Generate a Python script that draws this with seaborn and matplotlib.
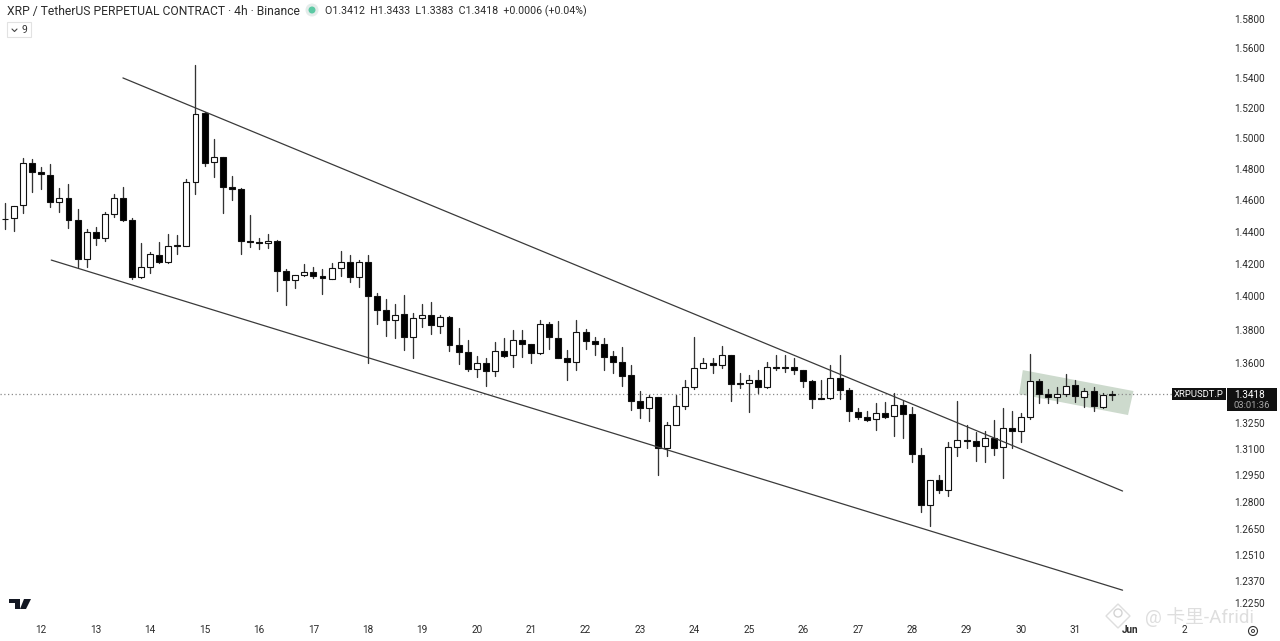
import numpy as np
import pandas as pd
import matplotlib
matplotlib.use('Agg')
import matplotlib.pyplot as plt
from matplotlib.patches import Rectangle, Polygon, Circle
import seaborn as sns

# 4h candles
opens = [1.4482, 1.4490, 1.4568, 1.4837, 1.4781, 1.4764, 1.4587, 1.4617, 1.4475, 1.4231, 1.4398,
         1.4360, 1.4513, 1.4614, 1.4475, 1.4120, 1.4180, 1.4258, 1.4213, 1.4314, 1.4314, 1.4719,
         1.5163, 1.4843, 1.4875, 1.4682, 1.4670, 1.4341, 1.4337, 1.4329, 1.4344, 1.4155, 1.4100,
         1.4134, 1.4153, 1.4126, 1.4110, 1.4175, 1.4214, 1.4120, 1.4210, 1.4003, 1.3918, 1.3860,
         1.3892, 1.3755, 1.3870, 1.3890, 1.3823, 1.3876, 1.3709, 1.3666, 1.3563, 1.3602, 1.3551,
         1.3673, 1.3645, 1.3737, 1.3713, 1.3661, 1.3834, 1.3751, 1.3629, 1.3605, 1.3787, 1.3733,
         1.3715, 1.3640, 1.3607, 1.3527, 1.3378, 1.3337, 1.3398, 1.3108, 1.3235, 1.3345, 1.3458,
         1.3572, 1.3598, 1.3588, 1.3648, 1.3484, 1.3482, 1.3497, 1.3460, 1.3578, 1.3578, 1.3578,
         1.3557, 1.3494, 1.3397, 1.3397, 1.3514, 1.3442, 1.3313, 1.3283, 1.3271, 1.3309, 1.3290,
         1.3354, 1.3299, 1.3066, 1.2784, 1.2923, 1.2870, 1.3114, 1.3154, 1.3146, 1.3116, 1.3160,
         1.3110, 1.3219, 1.3203, 1.3286, 1.3496, 1.3418, 1.3399, 1.3416, 1.3468, 1.3401, 1.3435,
         1.3344, 1.3412]
highs = [1.4581, 1.4566, 1.4873, 1.4864, 1.4811, 1.4834, 1.4680, 1.4702, 1.4545, 1.4418, 1.4433,
         1.4522, 1.4638, 1.4684, 1.4488, 1.4329, 1.4277, 1.4339, 1.4389, 1.4383, 1.4734, 1.5486,
         1.5174, 1.4995, 1.4879, 1.4755, 1.4680, 1.4505, 1.4364, 1.4385, 1.4348, 1.4167, 1.4133,
         1.4200, 1.4179, 1.4167, 1.4208, 1.4281, 1.4254, 1.4225, 1.4254, 1.4020, 1.3983, 1.3955,
         1.4009, 1.3898, 1.3953, 1.3969, 1.3888, 1.3882, 1.3811, 1.3735, 1.3643, 1.3627, 1.3727,
         1.3747, 1.3799, 1.3797, 1.3713, 1.3858, 1.3846, 1.3850, 1.3676, 1.3858, 1.3801, 1.3753,
         1.3751, 1.3674, 1.3694, 1.3586, 1.3435, 1.3412, 1.3398, 1.3256, 1.3414, 1.3499, 1.3753,
         1.3627, 1.3629, 1.3703, 1.3648, 1.3539, 1.3529, 1.3559, 1.3605, 1.3646, 1.3650, 1.3631,
         1.3557, 1.3498, 1.3500, 1.3588, 1.3648, 1.3450, 1.3334, 1.3321, 1.3363, 1.3373, 1.3426,
         1.3377, 1.3340, 1.3104, 1.2923, 1.2953, 1.3139, 1.3379, 1.3240, 1.3199, 1.3205, 1.3268,
         1.3334, 1.3321, 1.3309, 1.3654, 1.3504, 1.3448, 1.3461, 1.3533, 1.3500, 1.3450, 1.3456,
         1.3426, 1.3433]
lows = [1.4416, 1.4408, 1.4517, 1.4655, 1.4674, 1.4555, 1.4528, 1.4427, 1.4178, 1.4184, 1.4319,
        1.4344, 1.4492, 1.4471, 1.4106, 1.4112, 1.4147, 1.4205, 1.4205, 1.4262, 1.4314, 1.4638,
        1.4819, 1.4747, 1.4519, 1.4604, 1.4264, 1.4308, 1.4291, 1.4302, 1.4034, 1.3949, 1.4053,
        1.4128, 1.4116, 1.4015, 1.4110, 1.4128, 1.4088, 1.4057, 1.3598, 1.3835, 1.3763, 1.3747,
        1.3677, 1.3630, 1.3813, 1.3771, 1.3779, 1.3672, 1.3594, 1.3553, 1.3519, 1.3465, 1.3525,
        1.3637, 1.3575, 1.3637, 1.3598, 1.3655, 1.3683, 1.3627, 1.3501, 1.3559, 1.3683, 1.3646,
        1.3559, 1.3539, 1.3464, 1.3327, 1.3277, 1.3262, 1.2950, 1.3060, 1.3235, 1.3329, 1.3444,
        1.3572, 1.3543, 1.3568, 1.3378, 1.3451, 1.3313, 1.3421, 1.3451, 1.3559, 1.3549, 1.3533,
        1.3461, 1.3334, 1.3388, 1.3391, 1.3391, 1.3263, 1.3273, 1.3259, 1.3211, 1.3276, 1.3177,
        1.3165, 1.3025, 1.2743, 1.2670, 1.2853, 1.2835, 1.3061, 1.3104, 1.3034, 1.3025, 1.3066,
        1.2937, 1.3104, 1.3139, 1.3271, 1.3363, 1.3363, 1.3363, 1.3403, 1.3371, 1.3344, 1.3321,
        1.3338, 1.3383]
closes = [1.4478, 1.4566, 1.4837, 1.4781, 1.4766, 1.4589, 1.4617, 1.4477, 1.4231, 1.4398, 1.4360,
          1.4511, 1.4614, 1.4475, 1.4120, 1.4180, 1.4260, 1.4213, 1.4314, 1.4319, 1.4715, 1.5159,
          1.4841, 1.4875, 1.4687, 1.4672, 1.4341, 1.4335, 1.4331, 1.4344, 1.4157, 1.4100, 1.4133,
          1.4153, 1.4126, 1.4112, 1.4173, 1.4214, 1.4120, 1.4210, 1.4003, 1.3920, 1.3860, 1.3890,
          1.3755, 1.3868, 1.3890, 1.3827, 1.3874, 1.3707, 1.3666, 1.3563, 1.3602, 1.3551, 1.3673,
          1.3643, 1.3737, 1.3713, 1.3661, 1.3834, 1.3753, 1.3627, 1.3605, 1.3783, 1.3733, 1.3715,
          1.3638, 1.3607, 1.3525, 1.3378, 1.3337, 1.3398, 1.3108, 1.3235, 1.3345, 1.3458, 1.3572,
          1.3598, 1.3588, 1.3650, 1.3476, 1.3478, 1.3497, 1.3460, 1.3578, 1.3570, 1.3570, 1.3560,
          1.3494, 1.3391, 1.3391, 1.3510, 1.3442, 1.3317, 1.3283, 1.3268, 1.3309, 1.3286, 1.3354,
          1.3301, 1.3070, 1.2784, 1.2923, 1.2870, 1.3112, 1.3154, 1.3148, 1.3118, 1.3160, 1.3108,
          1.3219, 1.3203, 1.3286, 1.3496, 1.3420, 1.3399, 1.3416, 1.3466, 1.3403, 1.3435, 1.3346,
          1.3409, 1.3418]

price_ticks = [1.58, 1.56, 1.54, 1.52, 1.50, 1.48, 1.46, 1.44, 1.42, 1.40, 1.38, 1.36,
               1.325, 1.31, 1.295, 1.28, 1.265, 1.251, 1.237, 1.225]
day_labels = ['12', '13', '14', '15', '16', '17', '18', '19', '20', '21', '22', '23', '24',
              '25', '26', '27', '28', '29', '30', '31', 'Jun', '2']
day_ticks = [4 + 6 * k for k in range(len(day_labels))]

# trend lines and the green box, as (candle number, price)
upper_x, upper_y = [13.0, 123.2], [1.5399, 1.2862]
lower_x, lower_y = [5.1, 123.2], [1.4224, 1.2318]
box_x = [112.2, 124.4, 123.8, 111.8]
box_y = [1.3558, 1.3435, 1.3295, 1.3417]
last_price = 1.3418

W, H = 1280, 641

sns.set_theme(style='white')
plt.rcParams['font.family'] = ['Roboto', 'Noto Sans CJK SC', 'DejaVu Sans']

fig = plt.figure(figsize=(W / 100, H / 100), dpi=100)
ax = fig.add_axes([0, (H - 620) / H, 1226 / W, 620 / H])
ax.set_yscale('log')

df = pd.DataFrame({'open': opens, 'high': highs, 'low': lows, 'close': closes})
df['n'] = df.index

# wicks
wicks = df.melt(id_vars='n', value_vars=['high', 'low'], value_name='price')
sns.lineplot(data=wicks, x='n', y='price', units='n', estimator=None, color='#333333',
             linewidth=0.95, legend=False, ax=ax, zorder=2)

# bodies
body_low = df[['open', 'close']].min(axis=1)
body_high = df[['open', 'close']].max(axis=1)
colors = ['white' if c >= o else 'black' for o, c in zip(opens, closes)]
ax.bar(df['n'], body_high - body_low, bottom=body_low, width=0.66, color=colors,
       edgecolor='#111111', linewidth=0.8, zorder=3)

# channel
sns.lineplot(x=upper_x, y=upper_y, color='#3a3a3a', linewidth=0.9, ax=ax, zorder=4)
sns.lineplot(x=lower_x, y=lower_y, color='#3a3a3a', linewidth=0.9, ax=ax, zorder=4)

ax.add_patch(Polygon(list(zip(box_x, box_y)), closed=True, facecolor='#cddacd',
                     edgecolor='none', zorder=1))
ax.axhline(last_price, color='#8a8a8a', linestyle=(0, (1, 2)), linewidth=0.9, zorder=1)

ax.set_xlim(-0.551, 134.6)
ax.set_ylim(1.2159, 1.5931)
ax.set_xlabel('')
ax.set_ylabel('')
ax.yaxis.tick_right()
ax.set_yticks(price_ticks, [f'{p:.4f}' for p in price_ticks])
ax.yaxis.set_minor_locator(matplotlib.ticker.NullLocator())
ax.set_xticks(day_ticks, day_labels)
ax.tick_params(axis='both', length=0, labelsize=7.2, labelcolor='#2b2b2b')
ax.tick_params(axis='y', pad=5.8)
ax.tick_params(axis='x', pad=3.5)
ax.get_xticklabels()[day_labels.index('Jun')].set_fontweight('bold')
sns.despine(ax=ax, left=True, bottom=True, right=True, top=True)


def fx(x):
    return x / W


def fy(y):
    return 1 - y / H


# header
fig.text(fx(7), fy(11), 'XRP / TetherUS PERPETUAL CONTRACT · 4h · Binance', fontsize=8.75,
         color='#2b2b2b', va='center', ha='left')
fig.text(fx(325), fy(11), 'O1.3412  H1.3433  L1.3383  C1.3418  +0.0006 (+0.04%)', fontsize=7.7,
         color='#2b2b2b', va='center', ha='left')
fig.add_artist(Circle((312, H - 10), 6.5, transform=None, facecolor='#e4ecea', edgecolor='none'))
fig.add_artist(Circle((312, H - 10), 3.5, transform=None, facecolor='#5cc9a4', edgecolor='none'))
fig.add_artist(Rectangle((7, H - 37), 24, 15, transform=None, facecolor='white',
                         edgecolor='#e2e2e2', linewidth=0.8))
fig.text(fx(21), fy(30), '9', fontsize=7.5, color='#333333', va='center', ha='left')
fig.add_artist(plt.Line2D([12, 14.5, 17], [H - 29, H - 31.5, H - 29], transform=None,
                          color='#444444', linewidth=0.8))

# price tags
fig.add_artist(Rectangle((1172, H - 400), 54, 12, transform=None, facecolor='#111111', edgecolor='none'))
fig.add_artist(Rectangle((1227, H - 411), 50, 23, transform=None, facecolor='#111111', edgecolor='none'))
fig.text(fx(1199), fy(394.5), 'XRPUSDT.P', fontsize=6.8, color='white', va='center', ha='center')
fig.text(fx(1234), fy(394.5), '1.3418', fontsize=7.2, color='white', va='center', ha='left')
fig.text(fx(1234), fy(405), '03:01:36', fontsize=6.8, color='#a8a8a8', va='center', ha='left')

# logo
fig.add_artist(Polygon([(9, H - 599), (20, H - 599), (20, H - 609), (15, H - 609), (15, H - 603), (9, H - 603)],
                       transform=None, facecolor='#131722', edgecolor='none'))
fig.add_artist(Polygon([(24, H - 599), (31, H - 599), (26, H - 609), (20, H - 609)],
                       transform=None, facecolor='#131722', edgecolor='none'))

# gear icon bottom right
fig.add_artist(Circle((1253, H - 631), 4.5, transform=None, facecolor='white', edgecolor='#333333', linewidth=0.8))
fig.add_artist(Circle((1253, H - 631), 1.5, transform=None, facecolor='white', edgecolor='#333333', linewidth=0.7))

# watermark
fig.text(fx(1145), fy(617), '@ 卡里-Afridi', fontsize=13.5, color='#dedede', va='center', ha='left')
fig.add_artist(Polygon([(1118, H - 604), (1130, H - 616), (1118, H - 628), (1106, H - 616)], transform=None,
                       facecolor='none', edgecolor='#dedede', linewidth=1.0))
fig.add_artist(Circle((1118, H - 613), 4, transform=None, facecolor='none', edgecolor='#d4d4d4', linewidth=1.0))

fig.savefig('out.png', dpi=100)
